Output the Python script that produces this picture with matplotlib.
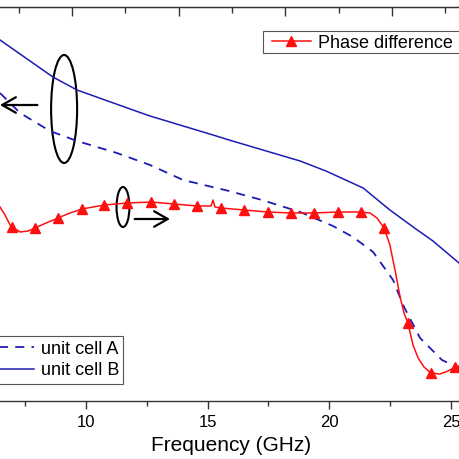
import matplotlib
matplotlib.use("Agg")
import matplotlib.pyplot as plt
from matplotlib.patches import Ellipse, Rectangle

plt.rcParams['font.family'] = ['Liberation Sans', 'DejaVu Sans']

# unit cell A (dashed)
freq_a = [6.465, 7.29, 8.52, 9.63, 11.27, 12.63, 13.99, 15.88, 17.23, 18.80,
          20.15, 20.97, 21.80, 22.62, 23.03, 23.73, 24.63, 25.33]
phase_a = [308, 288, 270, 260, 248, 236, 221, 210, 201, 189,
           175, 164, 149, 121, 96, 63, 41, 33]

# unit cell B (solid)
freq_b = [6.465, 8.64, 9.63, 11.93, 12.63, 15.22, 15.88, 18.80, 19.86, 21.39,
          22.49, 23.56, 24.26, 25.33]
phase_b = [361, 324, 311, 291, 285, 266, 261, 240, 230, 213,
           191, 172, 160, 138]

# phase difference (red, triangles)
freq_d = [6.465, 6.67, 6.88, 6.96, 7.29, 7.62, 7.90, 8.36, 8.85, 9.34,
          9.84, 10.74, 11.69, 12.67, 13.62, 14.56, 15.14, 15.22, 15.30, 15.55,
          16.49, 17.48, 18.43, 19.37, 20.36, 21.30, 21.67, 21.96, 22.25, 22.49,
          22.70, 22.91, 23.07, 23.23, 23.44, 23.65, 23.89, 24.18, 24.55, 24.88,
          25.17, 25.33]
phase_d = [194, 186, 176, 174, 169, 170, 173, 178, 183, 188,
           192, 196, 198, 199, 197, 195, 195, 201, 194, 193,
           191, 189, 188, 188, 189, 189, 188, 183, 173, 156,
           131, 104, 88, 78, 56, 43, 34, 28, 27, 30,
           34, 35]
marker_idx = [3, 6, 8, 10, 11, 12, 13, 14, 15, 19, 20, 21, 22, 23, 24, 25, 28, 33, 37, 40]

fig = plt.figure(figsize=(4.59, 4.59), dpi=100)
ax = fig.add_axes([0, 58 / 459, 1, 394 / 459])

blue = '#1c1cb4'
red = '#ff1010'

la, = ax.plot(freq_a, phase_a, color=blue, lw=1.3, ls=(0, (5, 4)), label='unit cell A')
lb, = ax.plot(freq_b, phase_b, color=blue, lw=1.1, label='unit cell B')
ld, = ax.plot(freq_d, phase_d, color=red, lw=1.1, marker='^', markersize=7,
              markevery=marker_idx, label='Phase difference')

ax.set_xlim(6.465, 25.33)
ax.set_ylim(0, 394)

# ellipses and arrows
ax.add_patch(Ellipse((9.10, 292), 1.07, 108, fill=False, ec='black', lw=1.5))
ax.add_patch(Ellipse((11.52, 194), 0.53, 40, fill=False, ec='black', lw=1.5))
ax.annotate('', xy=(6.465, 296), xytext=(8.0, 296),
            arrowprops=dict(arrowstyle='->,head_length=0.7,head_width=0.4',
                            lw=1.6, color='black', mutation_scale=14, shrinkA=0, shrinkB=0))
ax.annotate('', xy=(13.45, 182), xytext=(12.0, 182),
            arrowprops=dict(arrowstyle='->,head_length=0.7,head_width=0.4',
                            lw=1.6, color='black', mutation_scale=14, shrinkA=0, shrinkB=0))

for s in ['left', 'right']:
    ax.spines[s].set_visible(False)
for s in ['top', 'bottom']:
    ax.spines[s].set_color('#333333')
    ax.spines[s].set_linewidth(1.0)
ax.set_yticks([])

ax.set_xticks([10, 15, 20, 25])
ax.set_xticks([7.5, 12.5, 17.5, 22.5], minor=True)
ax.tick_params(axis='x', which='major', direction='out', length=6, width=1,
               labelsize=12, pad=4, colors='#333333', labelcolor='black')
ax.tick_params(axis='x', which='minor', direction='out', length=3.6, width=1, colors='#333333')
ax.set_xlabel('Frequency (GHz)', fontsize=15)
ax.xaxis.set_label_coords(0.504, -0.088)

top = ax.twiny()
top.set_xlim(0.325, 4.628)
top.set_xticks([1, 2, 3, 4])
top.set_xticks([0.5, 1.5, 2.5, 3.5, 4.5], minor=True)
top.tick_params(axis='x', which='major', direction='in', length=6.5, width=1,
                labeltop=False, colors='#333333')
top.tick_params(axis='x', which='minor', direction='in', length=4.3, width=1, colors='#333333')
for s in ['left', 'right', 'bottom']:
    top.spines[s].set_visible(False)
top.spines['top'].set_color('#333333')

# top-right legend: its frame runs past the right edge of the picture
ax.add_patch(Rectangle((263 / 459, (401 - 53) / 394), 0.6, 22 / 394, transform=ax.transAxes,
                       fill=True, fc='white', ec='#555555', lw=0.8, clip_on=False, zorder=4))
leg1 = ax.legend(handles=[ld], loc='upper left', bbox_to_anchor=(268 / 459, (401 - 31) / 394),
                 borderaxespad=0, fontsize=13, frameon=False, borderpad=0.2,
                 handlelength=2.2, handletextpad=0.35)
leg1.set_zorder(5)
ax.add_artist(leg1)
leg2 = ax.legend(handles=[la, lb], loc='upper left', bbox_to_anchor=(-10 / 459, (401 - 336) / 394),
                 borderaxespad=0, fontsize=13, frameon=True, fancybox=False,
                 edgecolor='#555555', framealpha=1, borderpad=0.25,
                 handlelength=2.2, handletextpad=0.35, labelspacing=0.25)
leg2.get_frame().set_linewidth(0.8)

fig.savefig('out.png', dpi=100)
